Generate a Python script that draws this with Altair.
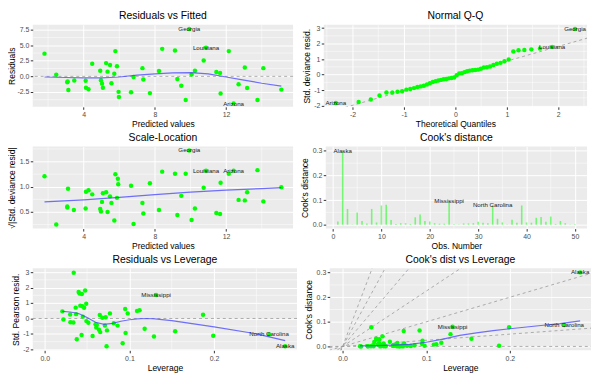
import altair as alt
import pandas as pd

FONT = "Liberation Sans"
PT = "#00FF00"
SMOOTH = "#4444FF"
REF = "#999999"

# ---------------- Residuals vs Fitted ----------------
p1_fitted = [1.80, 2.46, 3.08, 3.10, 3.14, 3.47, 4.11, 4.13, 4.27, 4.48, 4.93, 4.97, 5.03, 5.08,
             5.26, 5.34, 5.48, 5.56, 5.72, 5.78, 5.87, 5.96, 5.98, 6.66, 6.80, 7.30, 7.35, 7.72,
             8.23, 8.41, 9.13, 9.26, 9.48, 9.73, 9.93, 10.06, 10.25, 10.74, 10.87, 11.45, 11.66,
             11.69, 12.15, 12.42, 12.70, 13.05, 13.18, 13.76, 14.09, 15.10]
p1_resid = [3.65, 0.25, -0.95, -0.80, -2.20, -0.66, -0.70, -1.83, -2.08, 2.03, 0.91, -0.61, -1.17,
            -1.83, 2.13, 0.76, 1.83, -1.12, 0.41, 4.06, 1.62, -2.49, -3.30, -2.54, -0.10, 1.32,
            -0.51, -2.69, 0.86, 4.42, 4.16, -0.41, -1.52, -3.81, 7.61, 0.30, 0.91, 2.54, 4.62,
            0.71, 0.56, -2.74, 4.06, -4.37, -1.27, 1.42, -1.88, -3.81, 1.32, -2.13]
p1_label_names = ["Georgia", "Louisiana", "Arizona"]
p1_label_idx = [34, 38, 43]
p1_smooth_x = [1.8, 3, 4, 5, 6, 7, 8, 9, 10, 11, 12, 13, 14, 15.1]
p1_smooth_y = [-0.10, -0.18, -0.25, -0.25, -0.10, 0.20, 0.40, 0.56, 0.60, 0.40, -0.10, -0.60, -1.10, -1.57]

# ---------------- Normal Q-Q ----------------
qq_theoretical = [-2.326, -1.881, -1.645, -1.476, -1.341, -1.227, -1.126, -1.036, -0.954, -0.878,
                  -0.806, -0.739, -0.674, -0.613, -0.553, -0.496, -0.440, -0.385, -0.332, -0.279,
                  -0.228, -0.176, -0.126, -0.075, -0.025, 0.025, 0.075, 0.126, 0.176, 0.228,
                  0.279, 0.332, 0.385, 0.440, 0.496, 0.553, 0.613, 0.674, 0.739, 0.806,
                  0.878, 0.954, 1.036, 1.126, 1.227, 1.341, 1.476, 1.645, 1.881, 2.326]
qq_sample = [-1.83, -1.77, -1.61, -1.35, -1.15, -1.15, -1.11, -1.07, -0.97, -0.93, -0.87, -0.80,
             -0.76, -0.72, -0.64, -0.56, -0.48, -0.42, -0.38, -0.34, -0.30, -0.28, -0.24, -0.22,
             -0.18, -0.04, 0.08, 0.09, 0.16, 0.22, 0.26, 0.28, 0.30, 0.32, 0.38, 0.46, 0.48, 0.52,
             0.62, 0.70, 0.76, 0.86, 0.97, 1.49, 1.57, 1.59, 1.63, 1.69, 1.79, 2.94]
qq_label_names = ["Arizona", "Louisiana", "Georgia"]
qq_label_idx = [0, 48, 49]
qq_line_intercept = -0.08
qq_line_slope = 0.95
qq_line_x = [-2.7, 2.7]

# ---------------- Scale-Location ----------------
p3_fitted = [1.80, 2.46, 3.08, 3.08, 3.12, 3.45, 4.11, 4.13, 4.27, 4.48, 4.93, 4.97, 5.03, 5.08,
             5.26, 5.34, 5.48, 5.56, 5.72, 5.78, 5.87, 5.92, 5.94, 6.66, 6.80, 7.30, 7.35, 7.72,
             8.23, 8.41, 9.13, 9.26, 9.48, 9.73, 9.93, 10.06, 10.25, 10.74, 10.87, 11.45, 11.66,
             11.69, 12.15, 12.42, 12.70, 13.05, 13.18, 13.76, 14.09, 15.10]
p3_sqrt = [1.21, 0.25, 0.61, 0.59, 0.96, 0.54, 0.57, 0.90, 0.93, 0.85, 0.56, 0.51, 0.70, 0.87,
           0.89, 0.50, 0.81, 0.68, 0.33, 1.25, 0.78, 1.16, 1.05, 1.02, 0.26, 0.68, 0.47, 1.07,
           0.54, 1.30, 1.26, 0.44, 0.82, 1.26, 1.72, 0.34, 0.57, 0.98, 1.32, 0.48, 0.46, 1.08,
           1.26, 1.32, 0.74, 0.73, 0.89, 1.33, 0.71, 0.99]
p3_label_names = ["Georgia", "Louisiana", "Arizona"]
p3_label_idx = [34, 38, 43]
p3_smooth_x = [1.8, 4, 6, 8, 10, 12, 14, 15.1]
p3_smooth_y = [0.70, 0.74, 0.79, 0.845, 0.895, 0.935, 0.965, 0.985]

# ---------------- Cook's distance ----------------
p4_obs = list(range(1, 51))
p4_cook = [0.013, 0.300, 0.064, 0.001, 0.050, 0.015, 0.005, 0.064, 0.009, 0.078,
           0.081, 0.019, 0.003, 0.006, 0.006, 0.003, 0.030, 0.041, 0.015, 0.013,
           0.006, 0.004, 0.004, 0.096, 0.002, 0.001, 0.005, 0.005, 0.006, 0.012,
           0.008, 0.006, 0.080, 0.024, 0.009, 0.001, 0.020, 0.008, 0.078, 0.009,
           0.008, 0.028, 0.031, 0.012, 0.033, 0.003, 0.015, 0.006, 0.0005, 0.002]
p4_label_names = ["Alaska", "Mississippi", "North Carolina"]
p4_label_idx = [1, 23, 32]

# ---------------- Residuals vs Leverage ----------------
p5_lev = [0.0208, 0.0220, 0.0300, 0.0303, 0.0338, 0.0342, 0.0365, 0.0370, 0.0378, 0.0400,
          0.0410, 0.0420, 0.0435, 0.0438, 0.0445, 0.0450, 0.0465, 0.0477, 0.0490, 0.0492,
          0.0515, 0.0565, 0.0600, 0.0608, 0.0615, 0.0640, 0.0650, 0.0655, 0.0680, 0.0710,
          0.0720, 0.0730, 0.0735, 0.0770, 0.0815, 0.0860, 0.0920, 0.0950, 0.0955, 0.0980,
          0.1090, 0.1120, 0.1180, 0.1290, 0.1315, 0.1540, 0.1870, 0.1990, 0.2650, 0.2840]
p5_std = [0.46, -0.07, 0.26, -0.24, -0.26, 2.96, 0.70, 0.28, -1.34, 1.71,
          1.62, 0.83, -1.07, 1.58, 0.79, 0.12, 0.69, 1.81, 0.95, -0.17,
          -0.28, -1.13, -0.37, -0.59, -0.42, -0.72, 0.22, -0.88, 0.05, -0.45,
          0.08, -1.79, -0.77, 0.33, -0.30, -0.46, -1.60, 0.62, -0.93, 0.33,
          0.49, 0.53, -0.66, -1.16, 1.52, -0.82, 0.24, -1.12, -1.03, -1.79]
p5_label_names = ["Mississippi", "North Carolina", "Alaska"]
p5_label_idx = [44, 48, 49]
p5_smooth_x = [0.0208, 0.03, 0.04, 0.05, 0.06, 0.07, 0.08, 0.09, 0.10, 0.11, 0.12, 0.13, 0.15, 0.20, 0.25, 0.284]
p5_smooth_y = [0.46, 0.42, 0.32, 0.06, -0.24, -0.38, -0.32, -0.18, -0.08, -0.02, 0.0, -0.02, -0.14, -0.54, -0.99, -1.43]

# ---------------- Cook's dist vs Leverage ----------------
p6_lev = p5_lev
p6_cook = [0.001, 0.000, 0.0005, 0.0005, 0.0006, 0.078, 0.0046, 0.0008, 0.018, 0.031,
           0.028, 0.0075, 0.013, 0.029, 0.0073, 0.0002, 0.0058, 0.041, 0.0116, 0.0004,
           0.001, 0.019, 0.0022, 0.0056, 0.003, 0.009, 0.0008, 0.0136, 0.0, 0.0039,
           0.0001, 0.063, 0.0117, 0.0023, 0.002, 0.005, 0.065, 0.0101, 0.023, 0.003,
           0.0074, 0.0089, 0.0146, 0.050, 0.080, 0.031, 0.003, 0.078, 0.087, 0.301]
p6_label_names = ["Mississippi", "North Carolina", "Alaska"]
p6_label_idx = [44, 48, 49]
p6_smooth_x = [0.0208, 0.04, 0.06, 0.08, 0.10, 0.12, 0.14, 0.16, 0.18, 0.20, 0.22, 0.24, 0.26, 0.284]
p6_smooth_y = [0.002, 0.003, 0.005, 0.008, 0.017, 0.030, 0.045, 0.055, 0.064, 0.072, 0.079, 0.086, 0.093, 0.104]
p6_slopes = [0, 0.25, 1, 2.25, 4, 6.25, 9]
p6_line_x = [-0.03, 0.32]

TITLE_FS = 10.5
AX_TITLE_FS = 8.6
AX_LABEL_FS = 7
LABEL_FS = 6.2


def fmt_expr(fmt):
    return "replace(format(datum.value, '%s'), '\u2212', '-')" % fmt


def panel(title, x_title, y_title, xdom, ydom, xticks, yticks, xminor, yminor,
          xfmt, yfmt, w, h, ext, content):
    xs = alt.Scale(domain=xdom, nice=False, zero=False)
    ys = alt.Scale(domain=ydom, nice=False, zero=False)
    xa = alt.Axis(title=x_title, values=xticks, labelExpr=fmt_expr(xfmt))
    ya = alt.Axis(title=y_title, values=yticks, labelExpr=fmt_expr(yfmt),
                  minExtent=ext, maxExtent=ext)

    def X(f):
        return alt.X(f, type="quantitative", scale=xs, axis=xa)

    def Y(f):
        return alt.Y(f, type="quantitative", scale=ys, axis=ya)

    vminor = alt.Chart(pd.DataFrame({"v": xminor})).mark_rule(
        color="white", strokeWidth=0.5).encode(x=X("v"))
    hminor = alt.Chart(pd.DataFrame({"v": yminor})).mark_rule(
        color="white", strokeWidth=0.5).encode(y=Y("v"))
    layers = [vminor, hminor] + content(X, Y)
    return alt.layer(*layers).properties(
        width=w, height=h,
        title=alt.TitleParams(title, fontSize=TITLE_FS, font=FONT, fontWeight="normal",
                              anchor="middle", offset=3, color="black"))


def pts(xv, yv):
    return alt.Chart(pd.DataFrame({"x": xv, "y": yv})).mark_circle(
        size=20, color=PT, opacity=1)


def labels_df(xv, yv, idx, names):
    return pd.DataFrame({"x": [xv[i] for i in idx], "y": [yv[i] for i in idx], "t": names})


def labels(xv, yv, idx, names, X, Y):
    return alt.Chart(labels_df(xv, yv, idx, names)).mark_text(
        fontSize=LABEL_FS, font=FONT, color="#1a1a1a", align="center", baseline="middle").encode(
        x=X("x"), y=Y("y"), text="t:N")


def smooth(xv, yv, X, Y):
    return alt.Chart(pd.DataFrame({"x": xv, "y": yv})).mark_line(
        color=SMOOTH, strokeWidth=1.2, opacity=0.75, clip=True).encode(x=X("x"), y=Y("y"))


def zero_rule(Y):
    return alt.Chart(pd.DataFrame({"v": [0]})).mark_rule(
        color=REF, strokeDash=[3, 3], strokeWidth=0.8).encode(y=Y("v"))


H = 83


def c1(X, Y):
    return [zero_rule(Y),
            pts(p1_fitted, p1_resid).encode(x=X("x"), y=Y("y")),
            smooth(p1_smooth_x, p1_smooth_y, X, Y),
            labels(p1_fitted, p1_resid, p1_label_idx, p1_label_names, X, Y)]


def c2(X, Y):
    line = alt.Chart(pd.DataFrame({"x": qq_line_x})).transform_calculate(
        y="%f + %f * datum.x" % (qq_line_intercept, qq_line_slope)
    ).mark_line(color=REF, strokeDash=[3, 3], strokeWidth=0.8, clip=True).encode(
        x=X("x"), y=Y("y"))
    return [line,
            pts(qq_theoretical, qq_sample).encode(x=X("x"), y=Y("y")),
            labels(qq_theoretical, qq_sample, qq_label_idx, qq_label_names, X, Y)]


def c3(X, Y):
    return [pts(p3_fitted, p3_sqrt).encode(x=X("x"), y=Y("y")),
            smooth(p3_smooth_x, p3_smooth_y, X, Y),
            labels(p3_fitted, p3_sqrt, p3_label_idx, p3_label_names, X, Y)]


def c4(X, Y):
    bars = alt.Chart(pd.DataFrame({"x": p4_obs, "y": p4_cook})).transform_calculate(
        base="0").mark_rule(color="#00FF00", opacity=0.5, strokeWidth=1.6).encode(
        x=X("x"), y=Y("y"), y2="base:Q")
    return [bars, labels(p4_obs, p4_cook, p4_label_idx, p4_label_names, X, Y)]


def c5(X, Y):
    return [zero_rule(Y),
            pts(p5_lev, p5_std).encode(x=X("x"), y=Y("y")),
            smooth(p5_smooth_x, p5_smooth_y, X, Y),
            labels(p5_lev, p5_std, p5_label_idx, p5_label_names, X, Y)]


def c6(X, Y):
    rows = [{"s": s, "x": x} for s in p6_slopes for x in p6_line_x]
    ab = alt.Chart(pd.DataFrame(rows)).transform_calculate(y="datum.s * datum.x").mark_line(
        color=REF, strokeDash=[3, 3], strokeWidth=0.8, clip=True).encode(
        x=X("x"), y=Y("y"), detail="s:N")
    return [ab,
            pts(p6_lev, p6_cook).encode(x=X("x"), y=Y("y")),
            smooth(p6_smooth_x, p6_smooth_y, X, Y),
            labels(p6_lev, p6_cook, p6_label_idx, p6_label_names, X, Y)]


P1 = panel("Residuals vs Fitted", "Predicted values", "Residuals", [1.14, 15.76], [-4.9, 8.3],
           [4, 8, 12], [-2.5, 0, 2.5, 5, 7.5], [2, 6, 10, 14], [-3.75, -1.25, 1.25, 3.75, 6.25],
           "d", ".1f", 263, H, 14, c1)
P2 = panel("Normal Q-Q", "Theoretical Quantiles", "Std. deviance resid.", [-2.56, 2.56], [-2.08, 3.22],
           [-2, -1, 0, 1, 2], [-2, -1, 0, 1, 2, 3], [-2.5, -1.5, -0.5, 0.5, 1.5, 2.5],
           [-1.5, -0.5, 0.5, 1.5, 2.5], "d", "d", 266, H, 10, c2)
P3 = panel("Scale-Location", "Predicted values", "\u221a|Std. deviance resid|", [1.14, 15.76], [0.17, 1.80],
           [4, 8, 12], [0.5, 1.0, 1.5], [2, 6, 10, 14], [0.25, 0.75, 1.25, 1.75],
           "d", ".1f", 263, H, 14, c3)
P4 = panel("Cook's distance", "Obs. Number", "Cook's distance", [-1.5, 52.5], [-0.016, 0.318],
           [0, 10, 20, 30, 40, 50], [0, 0.1, 0.2, 0.3], [5, 15, 25, 35, 45], [0.05, 0.15, 0.25],
           "d", ".1f", 264, H, 14, c4)
P5 = panel("Residuals vs Leverage", "Leverage", "Std. Pearson resid.", [-0.0142, 0.298], [-2.06, 3.25],
           [0, 0.1, 0.2], [-2, -1, 0, 1, 2, 3], [0.05, 0.15, 0.25], [-1.5, -0.5, 0.5, 1.5, 2.5],
           ".1f", "d", 267, H, 10, c5)
P6 = panel("Cook's dist vs Leverage", "Leverage", "Cook's distance", [-0.0155, 0.297], [-0.016, 0.318],
           [0, 0.1, 0.2], [0, 0.1, 0.2, 0.3], [0.05, 0.15, 0.25], [0.05, 0.15, 0.25],
           ".1f", ".1f", 264, H, 14, c6)

chart = alt.vconcat(
    alt.hconcat(P1, P2, spacing=9),
    alt.hconcat(P3, P4, spacing=7),
    alt.hconcat(P5, P6, spacing=7),
    spacing=4,
).properties(padding=0, background="white").configure_view(
    fill="#EBEBEB", stroke=None
).configure_title(
    fontWeight="normal", font=FONT
).configure_axis(
    labelFont=FONT, titleFont=FONT, labelFontSize=AX_LABEL_FS, titleFontSize=AX_TITLE_FS,
    labelColor="#4D4D4D", titleColor="black", titleFontWeight="normal",
    tickColor="#333333", tickSize=2.5, labelPadding=1.5, titlePadding=2,
    domain=False, grid=True, gridColor="white", gridWidth=1
)

chart.save("out.html", embed_options={"renderer": "svg", "actions": False})
